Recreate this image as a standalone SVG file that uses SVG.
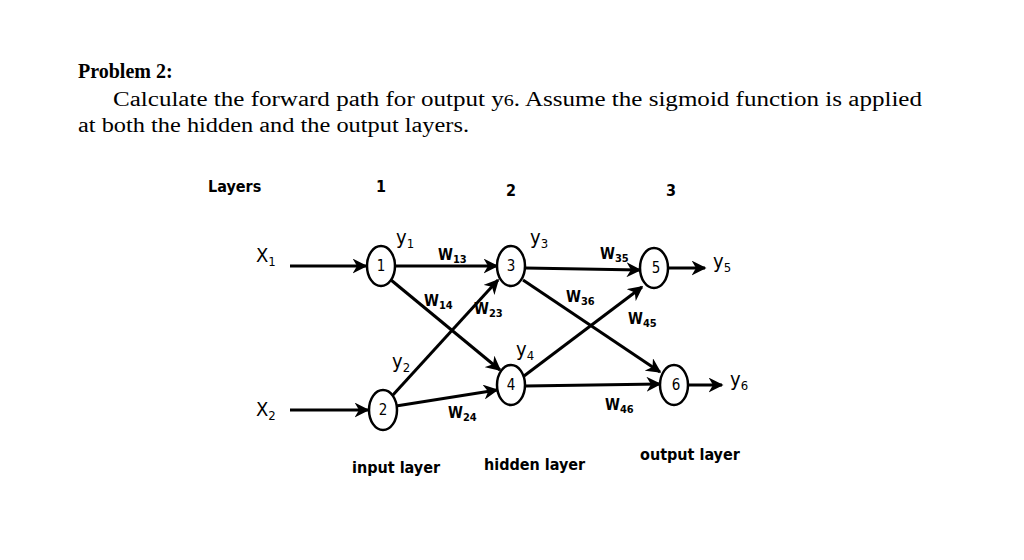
<svg xmlns="http://www.w3.org/2000/svg" width="1024" height="560" viewBox="0 0 1024 560">
<style>
.t{font-family:"Liberation Serif",serif;font-size:20px;fill:#000}
.s{font-family:"DejaVu Sans Condensed","DejaVu Sans",sans-serif;fill:#000;font-weight:bold}
.n{fill:#fff;stroke:#000;stroke-width:2.5}
.e{stroke:#000;stroke-width:3;fill:none;marker-end:url(#a)}
.l{font-family:"DejaVu Sans Condensed","DejaVu Sans",sans-serif;font-size:15px;fill:#000}
.y{font-family:"DejaVu Sans Condensed","DejaVu Sans",sans-serif;font-size:20px;fill:#000}
</style>
<defs><marker id="a" viewBox="0 0 10 10" refX="9" refY="5" markerWidth="5" markerHeight="5" orient="auto" markerUnits="strokeWidth"><path d="M0,0L10,5L0,10L3,5z" fill="#000"/></marker></defs>
<text class="t" x="78" y="78" font-weight="bold">Problem 2:</text>
<text class="t" x="113" y="106" font-size="24" textLength="809" lengthAdjust="spacingAndGlyphs">Calculate the forward path for output y<tspan font-size="16">6</tspan>. Assume the sigmoid function is applied</text>
<text class="t" x="78" y="132" font-size="24" textLength="391" lengthAdjust="spacingAndGlyphs">at both the hidden and the output layers.</text>
<g class="s" font-size="16"><text x="208" y="192">Layers</text><text x="376" y="192">1</text><text x="506" y="196">2</text><text x="666" y="196">3</text>
<text x="352" y="473">input layer</text><text x="484" y="470">hidden layer</text><text x="640" y="460">output layer</text></g>
<g id="connectors">
<path class="e" d="M290,266H366"/><path class="e" d="M290,410H368"/>
<path class="e" d="M394,266H497"/><path class="e" d="M391,280L500,370"/>
<path class="e" d="M392,396L498,280"/><path class="e" d="M396,406L497,390"/>
<path class="e" d="M525,268L640,270"/><path class="e" d="M523,280L660,372"/>
<path class="e" d="M524,376L642,287"/><path class="e" d="M525,386L660,384"/>
<path class="e" d="M668,268H705"/><path class="e" d="M688,385H722"/>
</g>
<g class="l" font-weight="bold">
<text x="438" y="260">W<tspan font-size="11" dy="3">13</tspan></text>
<text x="424" y="306">W<tspan font-size="11" dy="3">14</tspan></text>
<text x="474" y="314">W<tspan font-size="11" dy="3">23</tspan></text>
<text x="448" y="418">W<tspan font-size="11" dy="3">24</tspan></text>
<text x="600" y="259">W<tspan font-size="11" dy="3">35</tspan></text>
<text x="566" y="302">W<tspan font-size="11" dy="3">36</tspan></text>
<text x="628" y="324">W<tspan font-size="11" dy="3">45</tspan></text>
<text x="605" y="410">W<tspan font-size="11" dy="3">46</tspan></text>
</g>
<g class="y">
<text x="256" y="262">X<tspan font-size="13" dy="4">1</tspan></text>
<text x="256" y="416">X<tspan font-size="13" dy="4">2</tspan></text>
<text x="396" y="244">y<tspan font-size="13" dy="4">1</tspan></text>
<text x="392" y="368">y<tspan font-size="13" dy="4">2</tspan></text>
<text x="530" y="244">y<tspan font-size="13" dy="4">3</tspan></text>
<text x="516" y="356">y<tspan font-size="13" dy="4">4</tspan></text>
<text x="713" y="268">y<tspan font-size="13" dy="4">5</tspan></text>
<text x="730" y="386">y<tspan font-size="13" dy="4">6</tspan></text>
</g>
<g id="n1"><ellipse class="n" cx="381" cy="266" rx="14" ry="20"/><text class="l" font-size="14" x="381" y="271" text-anchor="middle">1</text></g>
<g id="n2"><ellipse class="n" cx="383" cy="410" rx="14" ry="20"/><text class="l" font-size="14" x="383" y="415" text-anchor="middle">2</text></g>
<g id="n3"><ellipse class="n" cx="511" cy="266" rx="14" ry="20"/><text class="l" font-size="14" x="511" y="271" text-anchor="middle">3</text></g>
<g id="n4"><ellipse class="n" cx="511" cy="385" rx="14" ry="20"/><text class="l" font-size="14" x="511" y="390" text-anchor="middle">4</text></g>
<g id="n5"><ellipse class="n" cx="654" cy="268" rx="14" ry="20"/><text class="l" font-size="14" x="656" y="273" text-anchor="middle">5</text></g>
<g id="n6"><ellipse class="n" cx="674" cy="385" rx="14" ry="20"/><text class="l" font-size="14" x="676" y="390" text-anchor="middle">6</text></g>
</svg>
